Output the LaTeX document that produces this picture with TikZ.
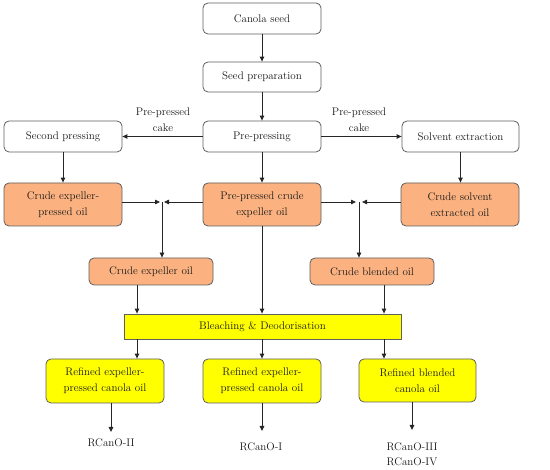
\documentclass[tikz,border=0pt]{standalone}
\usetikzlibrary{arrows.meta,calc}
\definecolor{peach}{RGB}{251,178,128}
\definecolor{yel}{RGB}{255,255,0}
\definecolor{bord}{RGB}{95,95,95}
\definecolor{txt}{RGB}{25,25,25}
\begin{document}
\begin{tikzpicture}[x=1pt,y=-1pt,
  box/.style={draw=bord,line width=0.8pt,rounded corners=5pt,align=center,inner sep=0pt,text=txt,font=\fontsize{11}{16}\selectfont},
  wbox/.style={box,fill=white},
  obox/.style={box,fill=peach},
  ybox/.style={box,fill=yel},
  lab/.style={align=center,inner sep=0pt,text=txt,font=\fontsize{11}{15}\selectfont},
  arr/.style={-{Triangle[length=5pt,width=4.5pt]},line width=0.9pt,draw=black!85}]
\useasboundingbox (0,0) rectangle (550,470);
\node[wbox,minimum width=118pt,minimum height=31pt] (canola) at (262,18.5) {Canola seed};
\node[wbox,minimum width=118pt,minimum height=30pt] (prep) at (262,77) {Seed preparation};
\node[wbox,minimum width=118pt,minimum height=31pt] (prepress) at (262,136.5) {Pre-pressing};
\node[wbox,minimum width=118pt,minimum height=31pt] (second) at (63,136.5) {Second pressing};
\node[wbox,minimum width=117pt,minimum height=31pt] (solvent) at (460.5,136.5) {Solvent extraction};
\node[obox,minimum width=118pt,minimum height=43pt] (cepo) at (63,204.5) {Crude expeller-\\pressed oil};
\node[obox,minimum width=118pt,minimum height=43pt] (ppceo) at (262,204.5) {Pre-pressed crude\\expeller oil};
\node[obox,minimum width=118pt,minimum height=43pt] (cseo) at (460,204.5) {Crude solvent\\extracted oil};
\node[obox,minimum width=124pt,minimum height=27pt] (ceo) at (151,271.5) {Crude expeller oil};
\node[obox,minimum width=124pt,minimum height=27pt] (cbo) at (372,271.5) {Crude blended oil};
\node[ybox,rounded corners=0pt,minimum width=277pt,minimum height=25pt] (bleach) at (262.5,326.5) {Bleaching \& Deodorisation};
\node[ybox,minimum width=118pt,minimum height=44pt] (r1) at (105,381) {Refined expeller-\\pressed canola oil};
\node[ybox,minimum width=118pt,minimum height=44pt] (r2) at (262,381) {Refined expeller-\\pressed canola oil};
\node[ybox,minimum width=117pt,minimum height=43pt] (r3) at (417.5,380.5) {Refined blended\\canola oil};
\node[lab] (o2) at (111,443) {RCanO-II};
\node[lab] (o1) at (261,447) {RCanO-I};
\node[lab] (o34) at (412,454.5) {RCanO-III\\RCanO-IV};
\node[lab,font=\fontsize{11}{16}\selectfont] (lcake) at (163,120) {Pre-pressed\\cake};
\node[lab,font=\fontsize{11}{16}\selectfont] (rcake) at (359,120) {Pre-pressed\\cake};
\coordinate (jl) at (162,202);
\coordinate (jr) at (359,202);
\coordinate (xa) at (137,0);
\coordinate (xb) at (262,0);
\coordinate (xc) at (384,0);
\coordinate (xo1) at (111,0);
\coordinate (xo3) at (412,0);
\draw[arr] (canola) -- (prep);
\draw[arr] (prep) -- (prepress);
\draw[arr] (prepress) -- (second);
\draw[arr] (prepress) -- (solvent);
\draw[arr] (second.south) -- (second.south |- cepo.north);
\draw[arr] (prepress) -- (ppceo);
\draw[arr] (solvent.south) -- (solvent.south |- cseo.north);
\draw[arr,line width=0.8pt,shorten >=2pt] (cepo.east |- jl) -- (jl);
\draw[arr,line width=0.8pt,shorten >=2pt] (ppceo.west |- jl) -- (jl);
\draw[arr,line width=0.8pt] (jl) -- (jl |- ceo.north);
\draw[arr,line width=0.8pt,shorten >=3pt] (ppceo.east |- jr) -- (jr);
\draw[arr,line width=0.8pt,shorten >=3pt] (cseo.west |- jr) -- (jr);
\draw[arr,line width=0.8pt] (jr) -- (jr |- cbo.north);
\draw[arr] (xa |- ceo.south) -- (xa |- bleach.north);
\draw[arr] (ppceo.south) -- (xb |- bleach.north);
\draw[arr] (xc |- cbo.south) -- (xc |- bleach.north);
\draw[arr] (xa |- bleach.south) -- (xa |- r1.north);
\draw[arr] (xb |- bleach.south) -- (xb |- r2.north);
\draw[arr] (xc |- bleach.south) -- (xc |- r3.north);
\draw[arr] (xo1 |- r1.south) -- (xo1 |- 0,432);
\draw[arr] (r2.south) -- (xb |- 0,431);
\draw[arr] (xo3 |- r3.south) -- (xo3 |- 0,430);
\end{tikzpicture}
\end{document}
